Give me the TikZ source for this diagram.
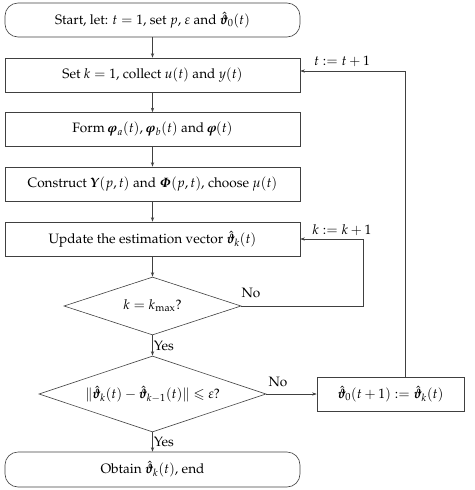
\documentclass[tikz,border=0pt]{standalone}
\usepackage{amsmath,amssymb}
\usepackage[slantedGreek]{mathpazo}
\usepackage[T1]{fontenc}
\usepackage{bm}
\usetikzlibrary{shapes.geometric,arrows.meta}
\tikzset{
  base/.style={draw=black!75, line width=0.6pt, align=center, inner sep=2pt},
  procbox/.style={base, rectangle, minimum width=295pt, minimum height=34pt},
  termbox/.style={base, rectangle, rounded corners=13pt, minimum width=295pt, minimum height=34pt},
  decide/.style={base, diamond, inner sep=0pt, aspect=3},
  conn/.style={draw=black!75, line width=0.6pt, -{Stealth[length=4.5pt,width=3.2pt]}},
  lbl/.style={inner sep=1pt}
}
\begin{document}
\begin{tikzpicture}[x=1pt,y=-1pt, font=\fontsize{13.6}{16}\selectfont]
\useasboundingbox (0,0) rectangle (474,490);
\node[termbox] (start) at (152.5,20) {Start, let: $t=1$, set $p$, $\varepsilon$ and $\hat{\bm{\vartheta}}_0(t)$};
\node[procbox] (set) at (152.5,75) {Set $k=1$, collect $u(t)$ and $y(t)$};
\node[procbox] (form) at (152.5,129.5) {Form $\bm{\varphi}_a(t)$, $\bm{\varphi}_b(t)$ and $\bm{\varphi}(t)$};
\node[procbox] (cons) at (152.5,184) {Construct $\bm{Y}(p,t)$ and $\bm{\Phi}(p,t)$, choose $\mu(t)$};
\node[procbox] (upd) at (152.5,239) {Update the estimation vector $\hat{\bm{\vartheta}}_k(t)$};
\node[decide, minimum width=177pt, minimum height=58pt] (d1) at (152.5,306) {$k=k_{\max}$?};
\node[decide, minimum width=227pt, minimum height=76pt] (d2) at (152.5,394) {$\|\hat{\bm{\vartheta}}_k(t)-\hat{\bm{\vartheta}}_{k-1}(t)\|\leqslant\varepsilon$?};
\node[base, rectangle, minimum width=147pt, minimum height=34pt] (rb) at (390.5,394) {$\hat{\bm{\vartheta}}_0(t+1):=\hat{\bm{\vartheta}}_k(t)$};
\node[termbox, minimum height=35pt] (end) at (152.5,469.5) {Obtain $\hat{\bm{\vartheta}}_k(t)$, end};

\coordinate (kc) at (363,239);
\coordinate (tc) at (405,71);

\draw[conn] (start) -- (set);
\draw[conn] (set) -- (form);
\draw[conn] (form) -- (cons);
\draw[conn] (cons) -- (upd);
\draw[conn] (upd) -- (d1);
\draw[conn] (d1) -- node[lbl, right] {Yes} (d2);
\draw[conn] (d2) -- node[lbl, right] {Yes} (end);
\draw[conn] (d1.east) -| (kc) -- (upd.east);
\draw[conn] (d2.east) -- (rb.west);
\draw[conn] (rb.north -| tc) -- (tc) -- (tc -| set.east);

\node[lbl] (no1) at (251,293) {No};
\node[lbl] (no2) at (278,382) {No};
\node[lbl] (kl) at (342,230) {$k:=k+1$};
\node[lbl] (tl) at (342,61) {$t:=t+1$};
\end{tikzpicture}
\end{document}
